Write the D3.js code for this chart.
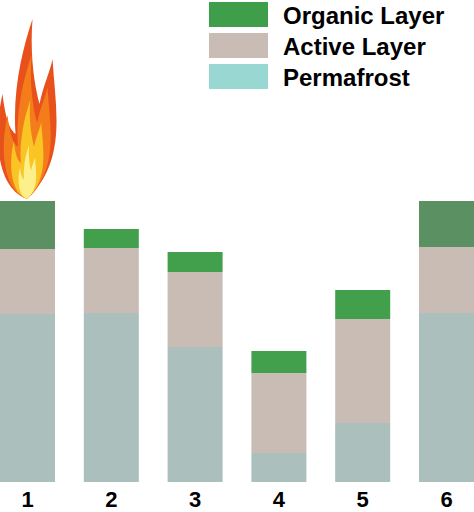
<!DOCTYPE html><html><head><meta charset="utf-8"><script src="https://cdn.jsdelivr.net/npm/d3@7"></script>
<style>body{margin:0;background:#fff}text{font-family:"Liberation Sans",Arial,sans-serif;font-weight:bold}</style></head><body><svg id="c" width="474" height="512"></svg><script>
const categories=["1","2","3","4","5","6"];
const permafrost=[168,169,135,29,59,169];
const active=[65,65,75,80,104,66];
const organic=[48,19,20,22,29,46];
const burnt=[true,false,false,false,false,true];
const legendLabels=["Organic Layer","Active Layer","Permafrost"];
const legendColors=["#3f9e4a","#c9bcb5","#99d8d2"];
const svg=d3.select("#c");
const x=d3.scalePoint().domain(categories).range([27.5,446.5]);
const y=d3.scaleLinear().domain([0,300]).range([482,182]);
const bw=55;
categories.forEach((c,i)=>{
  const cx=x(c)-bw/2;
  const segs=[[0,permafrost[i],"#abbfbd"],[permafrost[i],permafrost[i]+active[i],"#c8bcb5"],[permafrost[i]+active[i],permafrost[i]+active[i]+organic[i],burnt[i]?"#5a9062":"#42a04c"]];
  segs.forEach(s=>svg.append("rect").attr("x",cx).attr("width",bw).attr("y",y(s[1])).attr("height",y(s[0])-y(s[1])).attr("fill",s[2]));
  svg.append("text").attr("x",cx+bw/2).attr("y",507).attr("text-anchor","middle").attr("font-size",22).text(c);
});
const fx=x("1"), fy=y(permafrost[0]+active[0]+organic[0])-2;
const f=svg.append("g").attr("transform",`translate(${fx},${fy})`);
const flame=(s,c)=>f.append("path").attr("fill",c).attr("d",
 `M0,0 C${-30*s},${-10*s} ${-35*s},${-60*s} ${-25*s},${-105*s} C${-22*s},${-80*s} ${-18*s},${-70*s} ${-12*s},${-65*s} C${-15*s},${-110*s} ${-5*s},${-150*s} ${5*s},${-180*s} C${2*s},${-140*s} ${8*s},${-110*s} ${12*s},${-95*s} C${16*s},${-115*s} ${22*s},${-125*s} ${25*s},${-140*s} C${28*s},${-90*s} ${40*s},${-40*s} 0,0 Z`);
flame(1,"#e8501c");flame(0.8,"#f57c1a");flame(0.55,"#f9c524");flame(0.3,"#fdf08a");
legendLabels.forEach((l,i)=>{
  svg.append("rect").attr("x",209).attr("y",2+i*31).attr("width",59).attr("height",25).attr("fill",legendColors[i]);
  svg.append("text").attr("x",283).attr("y",24+i*31).attr("font-size",24).text(l);
});
</script></body></html>
